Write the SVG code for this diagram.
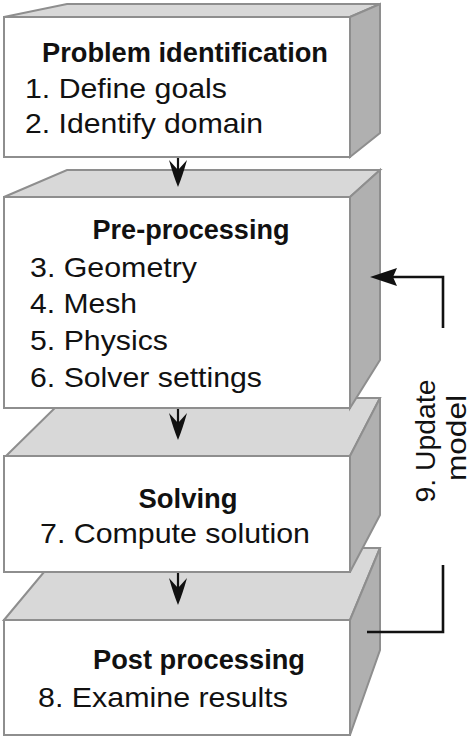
<svg xmlns="http://www.w3.org/2000/svg" width="474" height="740" viewBox="0 0 474 740">
<defs>
<style>
.front{fill:#ffffff;stroke:#8e8e8e;stroke-width:2;stroke-linejoin:miter}
.top{fill:#d8d8d8;stroke:#8e8e8e;stroke-width:2;stroke-linejoin:miter}
.side{fill:#b0b0b0;stroke:#8e8e8e;stroke-width:2;stroke-linejoin:miter}
.t{font-family:"Liberation Sans",Arial,Helvetica,sans-serif;font-size:28px;fill:#111}
.b{font-family:"Liberation Sans",Arial,Helvetica,sans-serif;font-size:27px;font-weight:bold;fill:#111}
.conn{fill:none;stroke:#111;stroke-width:2.2}
.fb{fill:none;stroke:#111;stroke-width:2.6}
</style>
<marker id="dart" markerUnits="userSpaceOnUse" markerWidth="30" markerHeight="22" viewBox="0 -11 30 22" refX="10" refY="0" orient="auto">
<path d="M0,-9 Q16,-4.5 27,0 Q16,4.5 0,9 L10,0 Z" fill="#111"/>
</marker>
<marker id="head" markerUnits="userSpaceOnUse" markerWidth="30" markerHeight="22" viewBox="0 -11 30 22" refX="4" refY="0" orient="auto">
<path d="M0,-9 L27,0 L0,9 L4,0 Z" fill="#111"/>
</marker>
</defs>
<rect width="474" height="740" fill="#ffffff"/>

<g id="post-processing">
<polygon class="top" points="4,620 64,548 380,548 350,620"/>
<polygon class="side" points="350,620 380,548 380,650 350,735"/>
<rect class="front" x="4" y="620" width="346" height="115"/>
<text class="b" x="199" y="669" text-anchor="middle" textLength="212" lengthAdjust="spacingAndGlyphs">Post processing</text>
<text class="t" x="38" y="707" textLength="250" lengthAdjust="spacingAndGlyphs">8. Examine results</text>
</g>

<g id="solving">
<polygon class="top" points="6,456 65,398 380,398 350,456"/>
<polygon class="side" points="350,456 380,398 380,515 350,572"/>
<rect class="front" x="4" y="456" width="346" height="116"/>
<text class="b" x="188" y="508" text-anchor="middle" textLength="99" lengthAdjust="spacingAndGlyphs">Solving</text>
<text class="t" x="40" y="543" textLength="270" lengthAdjust="spacingAndGlyphs">7. Compute solution</text>
</g>

<g id="pre-processing">
<polygon class="top" points="4,197 67,170 380,170 350,197"/>
<polygon class="side" points="350,197 380,170 380,360 350,408"/>
<rect class="front" x="4" y="197" width="346" height="211"/>
<text class="b" x="191" y="239" text-anchor="middle" textLength="197" lengthAdjust="spacingAndGlyphs">Pre-processing</text>
<text class="t" x="30" y="277" textLength="167" lengthAdjust="spacingAndGlyphs">3. Geometry</text>
<text class="t" x="30" y="313" textLength="107" lengthAdjust="spacingAndGlyphs">4. Mesh</text>
<text class="t" x="30" y="350" textLength="138" lengthAdjust="spacingAndGlyphs">5. Physics</text>
<text class="t" x="30" y="387" textLength="232" lengthAdjust="spacingAndGlyphs">6. Solver settings</text>
</g>

<g id="problem-identification">
<polygon class="top" points="4,17 67,4 380,4 350,17"/>
<polygon class="side" points="350,17 380,4 380,133 350,157"/>
<rect class="front" x="4" y="17" width="346" height="140"/>
<text class="b" x="185" y="62" text-anchor="middle" textLength="286" lengthAdjust="spacingAndGlyphs">Problem identification</text>
<text class="t" x="25" y="98" textLength="202" lengthAdjust="spacingAndGlyphs">1. Define goals</text>
<text class="t" x="25" y="133" textLength="238" lengthAdjust="spacingAndGlyphs">2. Identify domain</text>
</g>

<g id="connectors">
<path class="conn" d="M178,158 V170" marker-end="url(#dart)"/>
<path class="conn" d="M178,409 V423" marker-end="url(#dart)"/>
<path class="conn" d="M178,573 V588" marker-end="url(#dart)"/>
<path class="fb" d="M367,632 H443 V565"/>
<path class="fb" d="M443,328 V277 H393" marker-end="url(#head)"/>
</g>

<g id="feedback-label">
<text class="t" transform="translate(435,441) rotate(-90)" text-anchor="middle" textLength="123" lengthAdjust="spacingAndGlyphs">9. Update</text>
<text class="t" transform="translate(466,438) rotate(-90)" text-anchor="middle" textLength="86" lengthAdjust="spacingAndGlyphs">model</text>
</g>
</svg>
